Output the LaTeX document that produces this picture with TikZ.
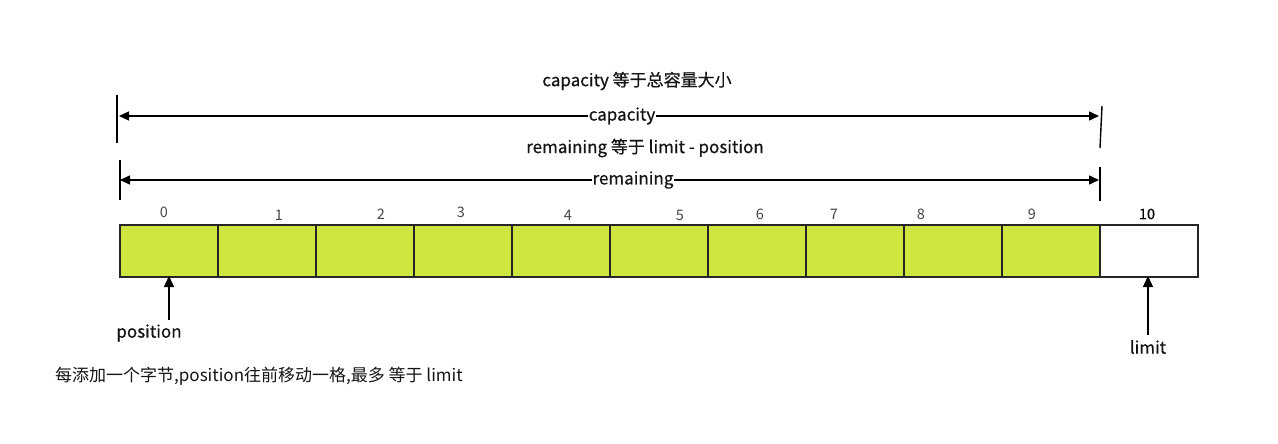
\documentclass[tikz,border=0pt]{standalone}
\usepackage{fontspec}
\setmainfont{Noto Sans CJK SC}
\newfontfamily\medfont[FakeBold=0.5]{Noto Sans CJK SC}
\usetikzlibrary{arrows.meta}
\definecolor{cellgreen}{RGB}{208,230,64}
\definecolor{txt}{RGB}{20,20,20}
\definecolor{numgray}{RGB}{70,70,70}
\begin{document}
\begin{tikzpicture}[x=1pt,y=-1pt,
  cell/.style={draw=black!85,line width=1.6pt,fill=cellgreen,minimum width=98pt,minimum height=52pt,anchor=north west,inner sep=0pt},
  emptycell/.style={cell,fill=white},
  lbl/.style={font=\medfont\fontsize{17}{20}\selectfont,text=txt,inner sep=1pt},
  note/.style={font=\fontsize{17}{20}\selectfont,text=txt,inner sep=1pt},
  num/.style={font=\fontsize{14.5}{16}\selectfont,text=numgray,inner sep=0pt},
  dim/.style={line width=1.4pt,{Triangle[length=10pt,width=9pt]}-{Triangle[length=10pt,width=9pt]}},
  tick/.style={line width=1.4pt},
  ptr/.style={line width=1.4pt,-{Triangle[length=11pt,width=10pt]}}]
\useasboundingbox (0,0) rectangle (1278,444);
% cells
\foreach \i in {0,...,9}{
  \node[cell] (c\i) at (119+98*\i,224) {};
}
\node[emptycell] (c10) at (1099,224) {};
% numbers
\node[num] (n0) at (164,212) {0};
\node[num] (n1) at (279,215) {1};
\node[num] (n2) at (381,214) {2};
\node[num] (n3) at (461,212) {3};
\node[num] (n4) at (568,215) {4};
\node[num] (n5) at (680,215) {5};
\node[num] (n6) at (760,214) {6};
\node[num] (n7) at (834,214) {7};
\node[num] (n8) at (921,214) {8};
\node[num] (n9) at (1032,214) {9};
\node[num,text=black,font=\medfont\fontsize{14.5}{16}\selectfont] (n10) at (1147,214) {10};
% capacity dimension
\coordinate (capL) at (119,116);
\coordinate (capR) at (1099,116);
\coordinate (capLt) at (117,95);
\coordinate (capLb) at (117,143);
\coordinate (capRt) at (1102,106);
\coordinate (capRb) at (1100,148);
\draw[tick] (capLt) -- (capLb);
\draw[tick] (capRt) -- (capRb);
\draw[dim] (capL) -- (capR);
\node[lbl,fill=white] (capLbl) at (622,116) {capacity};
\node[lbl] (capTitle) at (637,81) {capacity 等于总容量大小};
% remaining dimension
\coordinate (remL) at (120,180);
\coordinate (remR) at (1099,180);
\coordinate (remLt) at (120,160);
\coordinate (remLb) at (120,200);
\coordinate (remRt) at (1100,167);
\coordinate (remRb) at (1100,201);
\draw[tick] (remLt) -- (remLb);
\draw[tick] (remRt) -- (remRb);
\draw[dim] (remL) -- (remR);
\node[lbl,fill=white] (remLbl) at (633,180) {remaining};
\node[lbl] (remTitle) at (645,148) {remaining 等于 limit - position};
% pointers
\node[lbl] (pos) at (149,333) {position};
\coordinate (posS) at (169,320);
\coordinate (posE) at (169,276);
\draw[ptr] (posS) -- (posE);
\node[lbl] (lim) at (1148,347) {limit};
\coordinate (limS) at (1148,335);
\coordinate (limE) at (1148,276);
\draw[ptr] (limS) -- (limE);
% note
\node[note,anchor=west] (note) at (54,376) {每添加一个字节,position往前移动一格,最多 等于 limit};
\end{tikzpicture}
\end{document}
